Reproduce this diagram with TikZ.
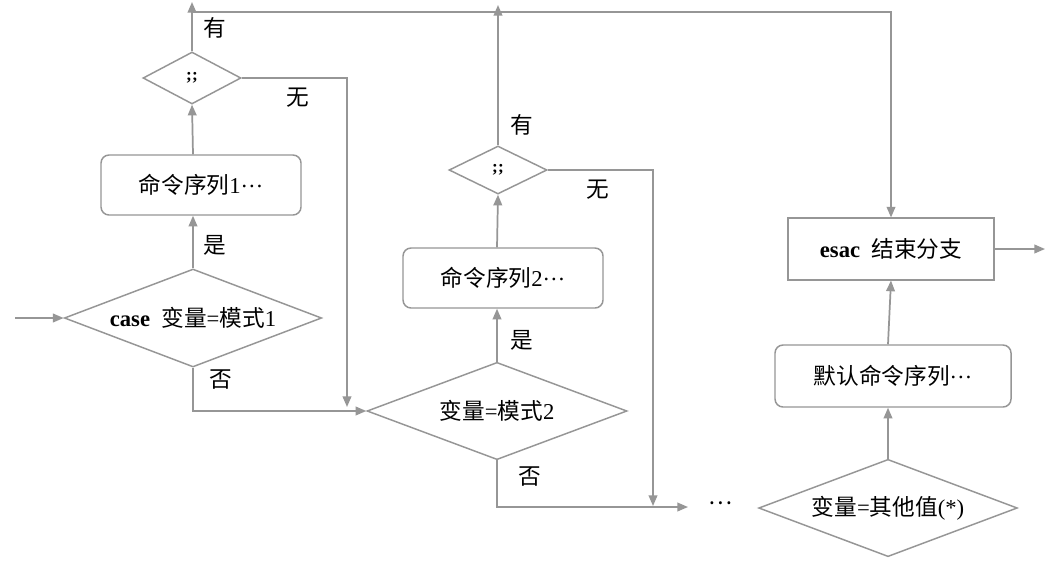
\documentclass[tikz,border=0pt]{standalone}
\usepackage{fontspec}
\setmainfont{Liberation Serif}
\newfontfamily\cjk{Noto Sans CJK SC}
\usetikzlibrary{shapes.geometric,arrows.meta}
\definecolor{lc}{RGB}{150,150,150}
\newcommand{\zh}[1]{{\cjk #1}}
\newcommand{\mdots}{\raisebox{0.28em}{…}}
\begin{document}
\begin{tikzpicture}[x=0.75pt,y=-0.75pt,
  font=\fontsize{17}{20}\selectfont,
  conn/.style={draw=lc,line width=1.3pt},
  arr/.style={conn,-{Triangle[length=8pt,width=6.5pt]}},
  dia/.style={shape=diamond,draw=lc,line width=1.1pt,inner sep=0pt},
  rbox/.style={draw=lc,line width=1.1pt,rounded corners=6pt,minimum width=150pt,minimum height=45pt,inner sep=0pt},
  sbox/.style={draw=lc,line width=1.3pt,minimum width=155pt,minimum height=46pt,inner sep=0pt},
  lab/.style={inner sep=0pt,font=\cjk\fontsize{17}{20}\selectfont}]
\path[fill=white] (0,0) rectangle (1055,575);
\useasboundingbox (0,0) rectangle (1055,575);

% column 1
\node[dia,minimum width=73.5pt,minimum height=39pt] (d1) at (192,78) {\makebox[0pt]{\bfseries\fontsize{13}{13}\selectfont ;;}};
\node[rbox] (b1) at (201,185) {\zh{命令序列}1\mdots};
\node[dia,minimum width=193pt,minimum height=73.5pt] (c1) at (193,318) {\makebox[0pt]{\textbf{case}\ \ \zh{变量}=\zh{模式}1}};

% column 2
\node[dia,minimum width=73.5pt,minimum height=36pt] (d3) at (498,170) {\makebox[0pt]{\bfseries\fontsize{13}{13}\selectfont ;;}};
\node[rbox] (b2) at (503,278) {\zh{命令序列}2\mdots};
\node[dia,minimum width=195pt,minimum height=73pt] (c2) at (497,411) {\makebox[0pt]{\zh{变量}=\zh{模式}2}};

% column 3
\node[sbox] (esac) at (891,249) {\textbf{esac}\ \ \zh{结束分支}};
\node[rbox,minimum width=177pt,minimum height=46.5pt] (b3) at (893,376) {\zh{默认命令序列}\mdots};
\node[dia,minimum width=194pt,minimum height=73pt] (c3) at (888,508) {\makebox[0pt]{\zh{变量}=\zh{其他值}(*)}};

\node[inner sep=0pt] (dots) at (720,503) {\zh{…}};

% labels
\node[lab] (y1) at (215,28) {有};
\node[lab] (n1) at (298,98) {无};
\node[lab] (s1) at (215,245) {是};
\node[lab] (f1) at (221,380) {否};
\node[lab] (y2) at (522,125) {有};
\node[lab] (n2) at (598,190) {无};
\node[lab] (s2) at (522,340) {是};
\node[lab] (f2) at (530,477) {否};

% coordinates
\coordinate (in) at (15,318);
\coordinate (t1) at (192,2);
\coordinate (j1) at (192,12);
\coordinate (t2) at (498,5);
\coordinate (m1) at (347,407);
\coordinate (m2) at (653,506);
\coordinate (e2) at (688,507);
\coordinate (out) at (1045,249);

% connectors
\draw[arr] (in) -- (c1.west);
\draw[arr] (c1.north) -- (c1.north |- b1.south);
\draw[arr] (c1.north |- b1.north) -- (d1.south);
\draw[arr] (d1.north) -- (t1);
\draw[arr] (j1) -| (esac.north);
\draw[arr] (d1.east) -| (m1);
\draw[arr] (c1.south) |- (c2.west);

\draw[arr] (c2.north) -- (c2.north |- b2.south);
\draw[arr] (c2.north |- b2.north) -- (d3.south);
\draw[arr] (d3.north) -- (t2);
\draw[arr] (d3.east) -| (m2);
\draw[arr] (c2.south) |- (e2);

\draw[arr] (c3.north) -- (c3.north |- b3.south);
\draw[arr] (c3.north |- b3.north) -- (esac.south);
\draw[arr] (esac.east) -- (out);
\end{tikzpicture}
\end{document}
